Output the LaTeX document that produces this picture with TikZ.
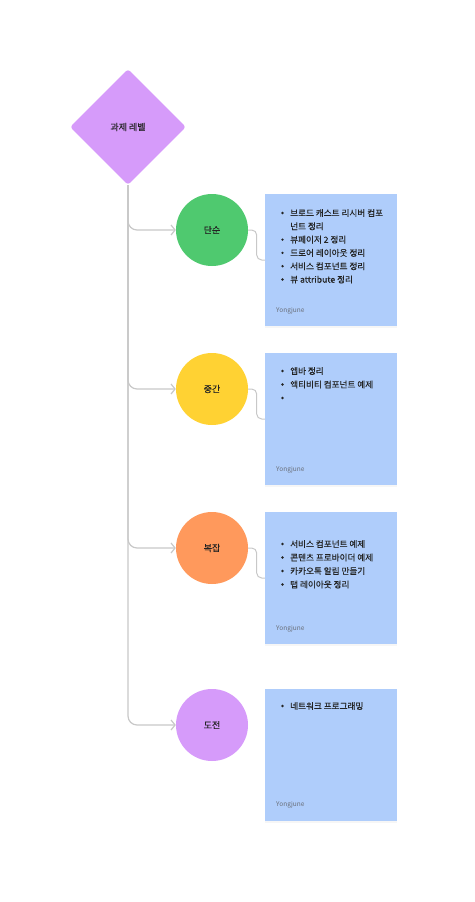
\documentclass[tikz,border=0pt]{standalone}
\usepackage{fontspec}
\setmainfont{Noto Sans CJK KR}
\newfontfamily\medfont{Noto Sans CJK KR}[FakeBold=0.35]
\usetikzlibrary{shapes.geometric,arrows.meta,shadows}
\definecolor{dia}{RGB}{214,155,250}
\definecolor{cgreen}{RGB}{79,201,111}
\definecolor{cyellow}{RGB}{255,210,51}
\definecolor{corange}{RGB}{255,153,92}
\definecolor{cpurple}{RGB}{214,155,250}
\definecolor{notebg}{RGB}{175,205,251}
\definecolor{linegrey}{RGB}{200,200,200}
\definecolor{txt}{RGB}{35,35,35}
\definecolor{authc}{RGB}{105,110,120}
\newcommand\bul[3]{\fill[txt] (282.5,#2) circle (1.3pt); \node[itemtext] (#1) at (290,#2) {#3};}
\begin{document}
\begin{tikzpicture}[x=1pt,y=-1pt,
  lvl/.style={circle,minimum size=72pt,inner sep=0pt,font=\medfont\fontsize{9}{10}\selectfont,text=txt},
  sticky/.style={fill=notebg,minimum width=132pt,minimum height=132pt,inner sep=0pt,
    drop shadow={shadow xshift=0pt,shadow yshift=-2pt,opacity=0.07}},
  trunk/.style={draw=linegrey,line width=1.2pt,rounded corners=9pt,-{Straight Barb[length=4pt,width=10pt]}},
  conn/.style={draw=linegrey,line width=1pt,rounded corners=5pt},
  itemtext/.style={anchor=west,inner sep=0pt,font=\medfont\fontsize{8.6}{10}\selectfont,text=txt},
  author/.style={anchor=west,inner sep=0pt,font=\fontsize{6.5}{8}\selectfont,text=authc}
]
\useasboundingbox (0,0) rectangle (474,902);
% notes
\node[sticky] (n1) at (331,260) {};
\node[sticky] (n2) at (331,419) {};
\node[sticky] (n3) at (331,578) {};
\node[sticky] (n4) at (331,755) {};
% diamond
\node[diamond,aspect=1,fill=dia,minimum width=116pt,minimum height=116pt,inner sep=0pt,rounded corners=3pt,font=\medfont\fontsize{9}{10}\selectfont,text=txt] (d) at (128,127) {과제 레벨};
% circles
\node[lvl,fill=cgreen] (c1) at (212,230) {단순};
\node[lvl,fill=cyellow] (c2) at (212,389) {중간};
\node[lvl,fill=corange] (c3) at (212,548) {복잡};
\node[lvl,fill=cpurple] (c4) at (212,725) {도전};
% trunk connectors
\draw[trunk] (d.south) |- (c1.west);
\draw[trunk] (d.south) |- (c2.west);
\draw[trunk] (d.south) |- (c3.west);
\draw[trunk] (d.south) |- (c4.west);
% circle to note
\draw[conn] (c1.east) -- ++(8.5,0) |- (n1.west);
\draw[conn] (c2.east) -- ++(8.5,0) |- (n2.west);
\draw[conn] (c3.east) -- ++(8.5,0) |- (n3.west);
% note 1
\bul{a1}{213}{브로드 캐스트 리시버 컴포}
\node[itemtext] (a1b) at (290,226.3) {넌트 정리};
\bul{a2}{239.6}{뷰페이저 2 정리}
\bul{a3}{252.9}{드로어 레이아웃 정리}
\bul{a4}{266.2}{서비스 컴포넌트 정리}
\bul{a5}{279.5}{뷰 attribute 정리}
\node[author] (y1) at (276,311) {Yongjune};
% note 2
\bul{b1}{371}{앱바 정리}
\bul{b2}{384.5}{액티비티 컴포넌트 예제}
\fill[txt] (282.5,398) circle (1.3pt);
\node[author] (y2) at (276,470) {Yongjune};
% note 3
\bul{e1}{544}{서비스 컴포넌트 예제}
\bul{e2}{557.5}{콘텐츠 프로바이더 예제}
\bul{e3}{571}{카카오톡 알림 만들기}
\bul{e4}{584.5}{탭 레이아웃 정리}
\node[author] (y3) at (276,629) {Yongjune};
% note 4
\bul{f1}{706}{네트워크 프로그래밍}
\node[author] (y4) at (276,805) {Yongjune};
\end{tikzpicture}
\end{document}
